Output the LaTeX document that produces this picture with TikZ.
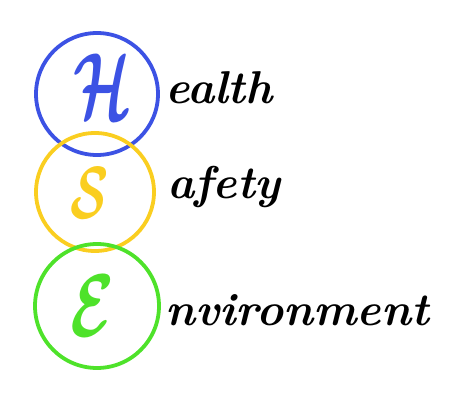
\documentclass[tikz,border=0pt]{standalone}
\usepackage{bm}
\usetikzlibrary{positioning}

\definecolor{hblue}{RGB}{60,82,228}
\definecolor{syellow}{RGB}{250,206,32}
\definecolor{egreen}{RGB}{78,226,42}

\begin{document}
\begin{tikzpicture}[%
    x=1pt, y=-1pt,             % pixel-like units, y going down
    ]
% -------------------------------------------------
% A few styles
\tikzset{
  ring/.style={draw, circle, line width=3.8pt, inner sep=0pt},
  initial/.style={inner sep=0pt},
  word/.style={anchor=base west, inner sep=0pt,
    font={\fontsize{46}{55}\selectfont\bfseries\itshape}}
}
\useasboundingbox (0,0) rectangle (474,404);
% -------------------------------------------------
% The three rings, top to bottom
\node [ring, hblue, minimum size=122pt] (ringH) at (97,94) {};
\node [ring, syellow, minimum size=118pt] (ringS) at (95,192) {};
\node [ring, egreen, minimum size=124pt] (ringE) at (97,306) {};

% Big initials inside the rings (narrowed a little)
\node [initial, text=hblue] (iniH) at (103,86)
  {\scalebox{5.9}[9.4]{$\bm{\mathcal{H}}$}};
\node [initial, text=syellow] (iniS) at (90,193)
  {\scalebox{5.0}[7.4]{$\bm{\mathcal{S}}$}};
\node [initial, text=egreen] (iniE) at (93,306)
  {\scalebox{6.4}[8.9]{$\bm{\mathcal{E}}$}};

% The rest of each word
\node [word] (wH) at (165,103) {ealth};
\node [word] (wS) at (167,198) {afety};
\node [word] (wE) at (165,325) {nvironment};
% -------------------------------------------------
\end{tikzpicture}
\end{document}
